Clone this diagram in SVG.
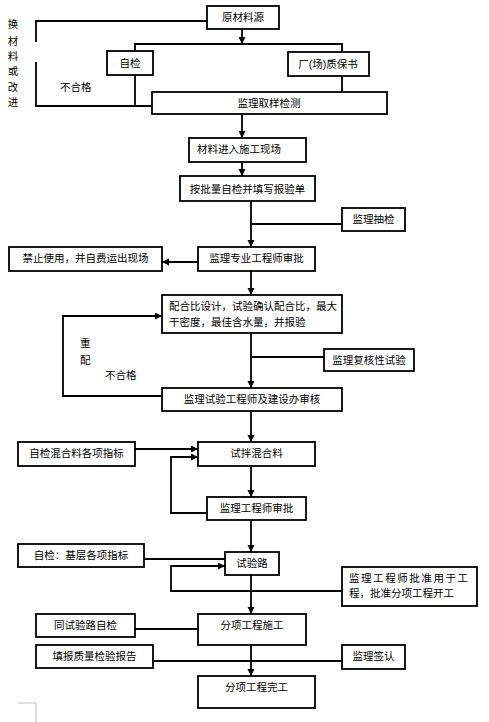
<svg xmlns="http://www.w3.org/2000/svg" width="489" height="722" viewBox="0 0 489 722">
<style>
.b{fill:#fff;stroke:#000;stroke-width:1.8}
.c{fill:none;stroke:#000;stroke-width:1.8}
text{font-family:"Liberation Sans","Noto Sans CJK SC",sans-serif;font-size:10.5px;fill:#000}
.m{text-anchor:middle}
</style>
<defs>
<marker id="a" markerUnits="userSpaceOnUse" markerWidth="8" markerHeight="8" refX="7" refY="3.5" orient="auto">
<path d="M0,0 L7,3.5 L0,7 z" fill="#000"/>
</marker>
</defs>
<rect width="489" height="722" fill="#fff"/>
<g id="connectors">
<path class="c" d="M242,29 V44" marker-end="url(#a)"/>
<path class="c" d="M135,51 V44 H342 V52"/>
<path class="c" d="M135,75 V106"/>
<path class="c" d="M342,76 V92"/>
<path class="c" d="M207,21 H36 V42"/>
<path class="c" d="M36,62 V106 H152"/>
<path class="c" d="M242,114 V138" marker-end="url(#a)"/>
<path class="c" d="M242,162 V176" marker-end="url(#a)"/>
<path class="c" d="M251,201 V247" marker-end="url(#a)"/>
<path class="c" d="M251,224 H342"/>
<path class="c" d="M198,262 H162" marker-end="url(#a)"/>
<path class="c" d="M251,271 V295" marker-end="url(#a)"/>
<path class="c" d="M162,396 H63 V316 H162" marker-end="url(#a)"/>
<path class="c" d="M251,333 V388" marker-end="url(#a)"/>
<path class="c" d="M251,357 H324"/>
<path class="c" d="M251,411 V442" marker-end="url(#a)"/>
<path class="c" d="M135,449 H198" marker-end="url(#a)"/>
<path class="c" d="M207,513 H171 V457 H198" marker-end="url(#a)"/>
<path class="c" d="M251,466 V497" marker-end="url(#a)"/>
<path class="c" d="M251,520 V552" marker-end="url(#a)"/>
<path class="c" d="M144,559 H225"/>
<path class="c" d="M342,591 H171 V566 H225" marker-end="url(#a)"/>
<path class="c" d="M251,575 V614" marker-end="url(#a)"/>
<path class="c" d="M135,629 H198"/>
<path class="c" d="M153,661 H342"/>
<path class="c" d="M251,645 V676" marker-end="url(#a)"/>
</g>
<g id="labels">
<text class="m" x="13" y="28">换</text>
<text class="m" x="13" y="45">材</text>
<text class="m" x="13" y="60">料</text>
<text class="m" x="13" y="75">或</text>
<text class="m" x="13" y="91">改</text>
<text class="m" x="13" y="106">进</text>
<text x="60" y="91">不合格</text>
<text x="80" y="347">重</text>
<text x="80" y="364">配</text>
<text x="105" y="379">不合格</text>
</g>
<g id="n1"><rect class="b" x="207" y="6" width="72" height="23"/><text class="m" x="243" y="21">原材料源</text></g>
<g id="n2"><rect class="b" x="107" y="51" width="46" height="24"/><text class="m" x="130" y="67">自检</text></g>
<g id="n3"><rect class="b" x="288" y="52" width="81" height="24"/><text class="m" x="328" y="68">厂(场)质保书</text></g>
<g id="n4"><rect class="b" x="152" y="92" width="235" height="22"/><text class="m" x="269" y="107">监理取样检测</text></g>
<g id="n5"><rect class="b" x="189" y="138" width="117" height="24"/><text x="197" y="153">材料进入施工现场</text></g>
<g id="n6"><rect class="b" x="180" y="176" width="135" height="25"/><text class="m" x="247.5" y="193">按批量自检并填写报验单</text></g>
<g id="n7"><rect class="b" x="342" y="208" width="63" height="23"/><text class="m" x="373.5" y="223">监理抽检</text></g>
<g id="n8"><rect class="b" x="9" y="247" width="153" height="24"/><text class="m" x="85.5" y="262">禁止使用，并自费运出现场</text></g>
<g id="n9"><rect class="b" x="198" y="247" width="117" height="24"/><text class="m" x="256.5" y="262">监理专业工程师审批</text></g>
<g id="n10"><rect class="b" x="162" y="295" width="180" height="38"/><text x="169" y="310">配合比设计，试验确认配合比，最大</text><text x="169" y="326">干密度，最佳含水量，并报验</text></g>
<g id="n11"><rect class="b" x="324" y="349" width="90" height="22"/><text class="m" x="369" y="364">监理复核性试验</text></g>
<g id="n12"><rect class="b" x="162" y="388" width="180" height="23"/><text class="m" x="252" y="403">监理试验工程师及建设办审核</text></g>
<g id="n13"><rect class="b" x="18" y="442" width="117" height="24"/><text class="m" x="76.5" y="457">自检混合料各项指标</text></g>
<g id="n14"><rect class="b" x="198" y="442" width="117" height="24"/><text class="m" x="256.5" y="457">试拌混合料</text></g>
<g id="n15"><rect class="b" x="207" y="497" width="99" height="23"/><text class="m" x="256.5" y="512">监理工程师审批</text></g>
<g id="n16"><rect class="b" x="18" y="544" width="126" height="23"/><text class="m" x="81" y="559">自检：基层各项指标</text></g>
<g id="n17"><rect class="b" x="225" y="552" width="54" height="23"/><text class="m" x="252" y="567">试验路</text></g>
<g id="n18"><rect class="b" x="342" y="567" width="135" height="39"/><text x="349" y="582" textLength="119" lengthAdjust="spacing">监理工程师批准用于工</text><text x="349" y="597">程，批准分项工程开工</text></g>
<g id="n19"><rect class="b" x="36" y="614" width="99" height="23"/><text class="m" x="85.5" y="629">同试验路自检</text></g>
<g id="n20"><rect class="b" x="198" y="614" width="108" height="31"/><text class="m" x="252" y="629">分项工程施工</text></g>
<g id="n21"><rect class="b" x="36" y="645" width="117" height="23"/><text class="m" x="94.5" y="660">填报质量检验报告</text></g>
<g id="n22"><rect class="b" x="342" y="645" width="63" height="24"/><text class="m" x="373.5" y="660">监理签认</text></g>
<g id="n23"><rect class="b" x="198" y="676" width="117" height="32"/><text class="m" x="256.5" y="691">分项工程完工</text></g>
<path d="M18,703 H36 V722" fill="none" stroke="#bbb" stroke-width="1"/>
</svg>
